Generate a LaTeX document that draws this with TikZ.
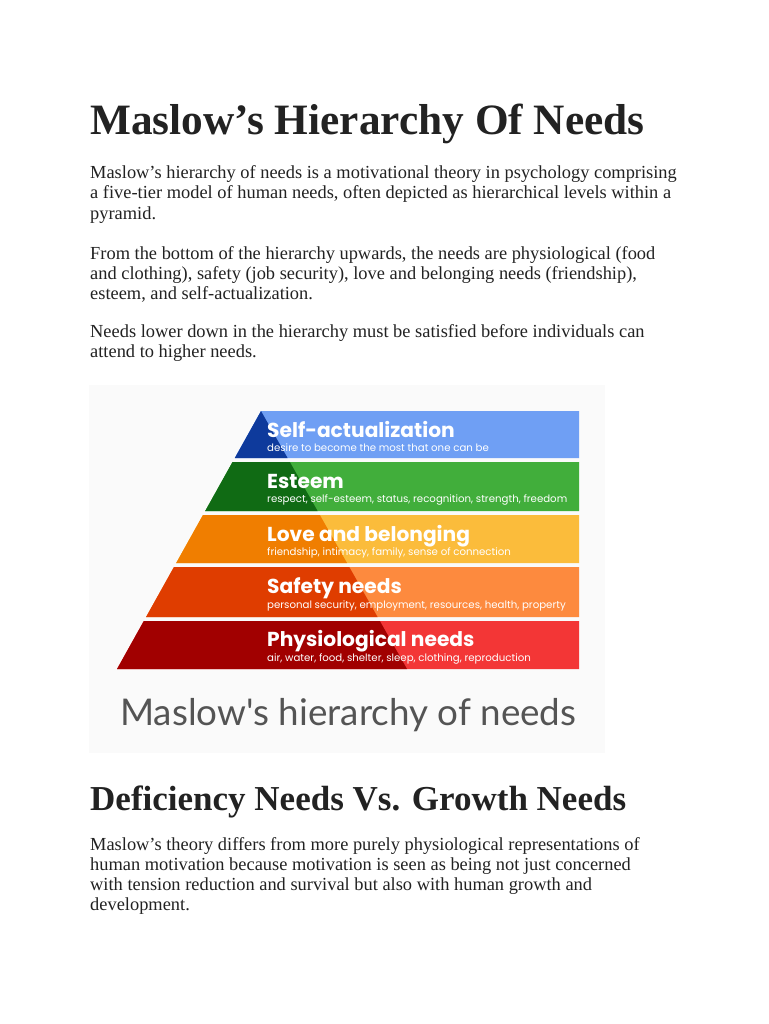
\documentclass[tikz,border=0pt]{standalone}
\usepackage{fontspec}
\setmainfont{Liberation Serif}
\newfontfamily\pop{Poppins}
\newfontfamily\capfont{Lato}
\definecolor{bodytxt}{HTML}{222222}
\definecolor{imgbg}{HTML}{FAFAFA}
\definecolor{sD}{HTML}{0E3A9C}\definecolor{sL}{HTML}{6F9FF4}
\definecolor{eD}{HTML}{106B14}\definecolor{eL}{HTML}{41AE3B}
\definecolor{lD}{HTML}{F07E00}\definecolor{lL}{HTML}{FBBC3B}
\definecolor{fD}{HTML}{DF3D00}\definecolor{fL}{HTML}{FD8A3E}
\definecolor{pD}{HTML}{A10000}\definecolor{pL}{HTML}{F33636}
\begin{document}
\begin{tikzpicture}[x=1pt,y=-1pt,
  body/.style={anchor=base west,inner sep=0pt,font=\fontsize{18.4}{20}\selectfont,text=bodytxt},
  head/.style={anchor=base west,inner sep=0pt,text=bodytxt},
  ttl/.style={anchor=base west,inner sep=0pt,text=white,font=\pop\bfseries\fontsize{20.2}{24}\selectfont},
  sub/.style={anchor=base west,inner sep=0pt,text=white,font=\pop\fontsize{10.2}{11}\selectfont}]
\useasboundingbox (0,0) rectangle (768,1024);
\fill[white] (0,0) rectangle (768,1024);
\node[head,font=\bfseries\fontsize{43.3}{46}\selectfont] (t1) at (90,135) {Maslow’s Hierarchy Of Needs};
\node[body] (p1) at (90,179) {Maslow’s hierarchy of needs is a motivational theory in psychology comprising};
\node[body] (p2) at (90,199) {a five-tier model of human needs, often depicted as hierarchical levels within a};
\node[body] (p3) at (90,219) {pyramid.};
\node[body] (p4) at (90,259) {From the bottom of the hierarchy upwards, the needs are physiological (food};
\node[body] (p5) at (90,279) {and clothing), safety (job security), love and belonging needs (friendship),};
\node[body] (p6) at (90,299) {esteem, and self-actualization.};
\node[body] (p7) at (90,337) {Needs lower down in the hierarchy must be satisfied before individuals can};
\node[body] (p8) at (90,357) {attend to higher needs.};
% image
\fill[imgbg] (89,385) rectangle (605,753);
\foreach \t/\b/\cd/\cl in {411/458/sD/sL, 462/511/eD/eL, 515/563/lD/lL, 567/617/fD/fL, 621/669/pD/pL}{
  \pgfmathsetmacro\xlt{261-0.558*(\t-411)}
  \pgfmathsetmacro\xlb{261-0.558*(\b-411)}
  \pgfmathsetmacro\xrt{261+0.566*(\t-411)}
  \pgfmathsetmacro\xrb{261+0.566*(\b-411)}
  \fill[\cl] (\xlt,\t) -- (579,\t) -- (579,\b) -- (\xlb,\b) -- cycle;
  \fill[\cd] (\xlt,\t) -- (\xrt,\t) -- (\xrb,\b) -- (\xlb,\b) -- cycle;
}
\node[ttl] (n1) at (267,437) {Self-actualization};
\node[sub] (s1) at (267,451) {desire to become the most that one can be};
\node[ttl] (n2) at (267,488) {Esteem};
\node[sub] (s2) at (267,502) {respect, self-esteem, status, recognition, strength, freedom};
\node[ttl] (n3) at (267,541) {Love and belonging};
\node[sub] (s3) at (267,555) {friendship, intimacy, family, sense of connection};
\node[ttl] (n4) at (267,593) {Safety needs};
\node[sub] (s4) at (267,608) {personal security, employment, resources, health, property};
\node[ttl] (n5) at (267,646) {Physiological needs};
\node[sub] (s5) at (267,661) {air, water, food, shelter, sleep, clothing, reproduction};
\node[anchor=base west,inner sep=0pt,text=black!67,font=\capfont\fontsize{36.8}{38}\selectfont] (cap) at (120,725) {Maslow's hierarchy of needs};
\node[head,font=\bfseries\fontsize{35}{37}\selectfont] (t2) at (90,810) {Deficiency Needs Vs. Growth Needs};
\node[body] (q1) at (90,850) {Maslow’s theory differs from more purely physiological representations of};
\node[body] (q2) at (90,870) {human motivation because motivation is seen as being not just concerned};
\node[body] (q3) at (90,890) {with tension reduction and survival but also with human growth and};
\node[body] (q4) at (90,910) {development.};
\end{tikzpicture}
\end{document}
